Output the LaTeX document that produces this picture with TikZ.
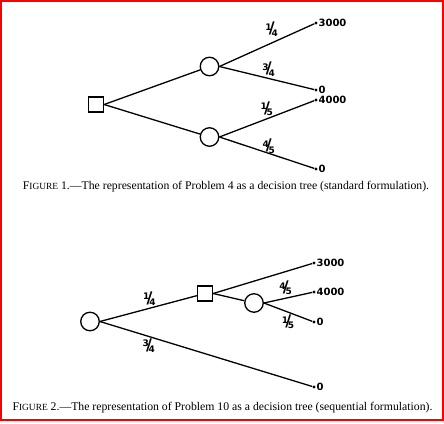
\documentclass[tikz,border=0pt]{standalone}
\usepackage{fontspec}
\setmainfont{Liberation Serif}
\newfontfamily\treefont{DejaVu Sans}
\usetikzlibrary{positioning}

% slashed fraction as printed on the branches
\newcommand{\slfrac}[2]{\raisebox{0.6ex}{\fontsize{9}{9}\selectfont #1}\kern-0.28em{\fontsize{16}{16}\selectfont/}\kern-0.32em\raisebox{-0.45ex}{\fontsize{9}{9}\selectfont #2}}
\newcommand{\figname}[1]{F{\fontsize{9.4}{11}\selectfont IGURE} #1.---}

\begin{document}
\begin{tikzpicture}
  [x=1pt, y=-1pt,
   decision/.style = {draw, line width=1.3pt, minimum size=15pt, inner sep=0pt},
   chance/.style = {draw, circle, line width=1.3pt, minimum size=18.5pt, inner sep=0pt},
   payoff/.style = {circle, fill, inner sep=0pt, minimum size=3.4pt,
     label={[font=\treefont\bfseries\fontsize{10}{11}\selectfont, inner sep=0.5pt]right:#1}},
   prob/.style = {font=\treefont\bfseries, inner sep=0pt},
   branch/.style = {line width=1.3pt},
   caption/.style = {font=\fontsize{11.75}{13}\selectfont, inner sep=0pt}]
  \useasboundingbox (0,0) rectangle (444,423);
  \draw[red, line width=2.2pt] (1.1,1.1) rectangle (443,420.2);

  % Figure 1
  \node (sqA) [decision] at (96,104.5) {};
  \node (cA) [chance] at (209.5,66.5) {};
  \node (cB) [chance] at (209.5,137) {};
  \node (pA) [payoff=3000] at (316,23) {};
  \node (pB) [payoff=0] at (316,90) {};
  \node (pC) [payoff=4000] at (316,100) {};
  \node (pD) [payoff=0] at (316,169) {};
  \draw[branch] (sqA.east) -- (cA);
  \draw[branch] (sqA.east) -- (cB);
  \draw[branch] (cA.east) -- node[prob, pos=0.55, above=6pt] {\slfrac{1}{4}} (pA);
  \draw[branch] (cA.east) -- node[prob, pos=0.52, above=1.5pt] {\slfrac{3}{4}} (pB);
  \draw[branch] (cB.east) -- node[prob, pos=0.5, above=2.5pt] {\slfrac{1}{5}} (pC);
  \draw[branch] (cB.east) -- node[prob, pos=0.52, above=-0.5pt] {\slfrac{4}{5}} (pD);
  \node (capA) [caption] at (226,187)
    {\figname{1}The representation of Problem 4 as a decision tree (standard formulation).};

  % Figure 2
  \node (cC) [chance] at (90,321.5) {};
  \node (sqB) [decision] at (205,293.5) {};
  \node (cD) [chance] at (254,303) {};
  \node (pE) [payoff=3000] at (314,263) {};
  \node (pF) [payoff=4000] at (314,292) {};
  \node (pG) [payoff=0] at (314,322) {};
  \node (pH) [payoff=0] at (314,387) {};
  \draw[branch] (cC.east) -- node[prob, pos=0.51, above=2pt] {\slfrac{1}{4}} (sqB);
  \draw[branch] (cC.east) -- node[prob, pos=0.23, below=1.5pt] {\slfrac{3}{4}} (pH);
  \draw[branch] (sqB.east) -- (pE);
  \draw[branch] (sqB.east) -- (cD);
  \draw[branch] (cD.east) -- node[prob, pos=0.45, above=2.5pt] {\slfrac{4}{5}} (pF);
  \draw[branch] (cD.east) -- node[prob, pos=0.5, below=2pt] {\slfrac{1}{5}} (pG);
  \node (capB) [caption] at (222.5,408)
    {\figname{2}The representation of Problem 10 as a decision tree (sequential formulation).};
\end{tikzpicture}
\end{document}
